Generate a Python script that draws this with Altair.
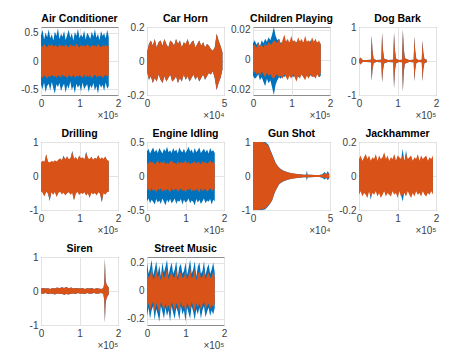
import altair as alt
import numpy as np
import pandas as pd

BLUE = "#0072BD"
ORANGE = "#D95319"

# ---------------- Air Conditioner (x in 1e5 samples) ----------------
AC_END = 1.76
AC_BHI = [0.45,0.55,0.38,0.50,0.42,0.56,0.40,0.47,0.36,0.52,0.44,0.58,0.39,0.48,0.43,0.53,0.37,0.46,0.55,0.41,0.49,0.36,0.51,0.44,0.57,0.40,0.47,0.42,0.54,0.38,0.50,0.45,0.39,0.52,0.43,0.56,0.41,0.48,0.37,0.53,0.44,0.49,0.40,0.55,0.42]
AC_BLO = [-0.42,-0.50,-0.38,-0.55,-0.44,-0.40,-0.52,-0.37,-0.48,-0.58,-0.41,-0.46,-0.39,-0.53,-0.45,-0.40,-0.56,-0.43,-0.49,-0.36,-0.51,-0.44,-0.57,-0.40,-0.47,-0.42,-0.54,-0.38,-0.50,-0.45,-0.41,-0.55,-0.43,-0.48,-0.39,-0.52,-0.44,-0.58,-0.40,-0.47,-0.42,-0.53,-0.38,-0.49,-0.44]
AC_OHI = [0.28,0.25,0.30,0.27,0.24,0.29,0.26,0.31,0.25,0.28,0.27,0.24,0.30,0.26,0.28,0.25,0.29,0.27,0.24,0.30,0.26,0.28,0.25,0.31,0.27,0.24,0.29,0.26,0.28,0.25,0.30,0.27,0.24,0.29,0.26,0.28,0.25,0.30,0.27,0.24,0.28,0.26,0.29,0.25,0.27]
AC_OLO = [-0.27,-0.30,-0.25,-0.28,-0.31,-0.26,-0.29,-0.24,-0.28,-0.26,-0.30,-0.25,-0.27,-0.29,-0.24,-0.28,-0.26,-0.31,-0.25,-0.27,-0.29,-0.24,-0.30,-0.26,-0.28,-0.25,-0.27,-0.30,-0.24,-0.29,-0.26,-0.28,-0.25,-0.31,-0.27,-0.24,-0.29,-0.26,-0.28,-0.25,-0.30,-0.27,-0.24,-0.28,-0.26]

# ---------------- Car Horn (x in 1e4 samples) ----------------
CH_END = 4.9
CH_OHI = [0.05,0.10,0.12,0.09,0.13,0.08,0.11,0.12,0.09,0.13,0.10,0.08,0.12,0.11,0.09,0.13,0.10,0.12,0.08,0.11,0.10,0.13,0.09,0.11,0.12,0.08,0.10,0.12,0.09,0.11,0.08,0.10,0.09,0.07,0.06,0.08,0.16,0.12,0.09,0.05]
CH_OLO = [-0.06,-0.11,-0.09,-0.13,-0.10,-0.12,-0.08,-0.11,-0.13,-0.09,-0.12,-0.10,-0.08,-0.12,-0.11,-0.09,-0.13,-0.10,-0.12,-0.08,-0.11,-0.09,-0.12,-0.10,-0.08,-0.11,-0.09,-0.12,-0.10,-0.08,-0.11,-0.09,-0.07,-0.08,-0.06,-0.10,-0.17,-0.13,-0.10,-0.05]

# ---------------- Children Playing ----------------
CP_END = 1.76
CP_BHI = [0.011,0.013,0.010,0.012,0.009,0.013,0.011,0.014,0.012,0.015,0.013,0.017,0.022,0.016,0.013,0.014,0.011,0.012,0.010,0.013,0.011,0.012,0.010,0.013,0.011,0.012,0.010,0.013,0.011,0.012,0.010,0.012,0.011,0.013,0.010,0.012,0.011,0.012,0.010,0.011]
CP_BLO = [-0.011,-0.013,-0.012,-0.010,-0.014,-0.012,-0.015,-0.018,-0.013,-0.016,-0.014,-0.019,-0.024,-0.017,-0.014,-0.012,-0.013,-0.011,-0.012,-0.010,-0.012,-0.011,-0.010,-0.012,-0.011,-0.010,-0.012,-0.011,-0.010,-0.012,-0.011,-0.010,-0.012,-0.011,-0.010,-0.012,-0.011,-0.010,-0.012,-0.011]
CP_OHI = [0.009,0.010,0.008,0.011,0.009,0.010,0.008,0.011,0.009,0.012,0.010,0.011,0.013,0.012,0.011,0.014,0.010,0.013,0.017,0.012,0.014,0.011,0.016,0.012,0.013,0.011,0.015,0.012,0.014,0.011,0.016,0.012,0.013,0.011,0.015,0.012,0.014,0.011,0.013,0.010]
CP_OLO = [-0.009,-0.008,-0.010,-0.009,-0.011,-0.008,-0.010,-0.012,-0.009,-0.011,-0.010,-0.012,-0.013,-0.011,-0.010,-0.012,-0.011,-0.013,-0.010,-0.012,-0.014,-0.011,-0.013,-0.010,-0.012,-0.015,-0.011,-0.013,-0.010,-0.012,-0.014,-0.011,-0.013,-0.010,-0.012,-0.011,-0.013,-0.010,-0.012,-0.009]

# ---------------- Dog Bark ----------------
DB_X  = [0.0,0.03,0.045,0.07,0.10,0.20,0.31,0.33,0.35,0.38,0.45,0.58,0.60,0.62,0.65,0.75,0.89,0.91,0.93,0.96,1.03,1.12,1.14,1.16,1.19,1.30,1.42,1.44,1.46,1.49,1.55,1.63,1.65,1.67,1.70,1.76]
DB_HI = [0.05,0.08,0.10,0.05,0.03,0.03,0.04,0.75,0.30,0.06,0.03,0.04,0.83,0.35,0.07,0.03,0.04,0.83,0.35,0.07,0.03,0.04,0.93,0.40,0.08,0.03,0.04,0.73,0.30,0.06,0.03,0.04,0.60,0.25,0.06,0.04]
DB_LO = [-0.05,-0.08,-0.10,-0.05,-0.03,-0.03,-0.04,-0.58,-0.25,-0.06,-0.03,-0.04,-0.63,-0.30,-0.07,-0.03,-0.04,-0.80,-0.30,-0.07,-0.03,-0.04,-0.90,-0.35,-0.08,-0.03,-0.04,-0.60,-0.25,-0.06,-0.03,-0.04,-0.60,-0.25,-0.06,-0.04]

# ---------------- Drilling ----------------
DR_END = 1.76
DR_BHI = [0.38,0.43,0.40,0.62,0.41,0.38,0.42,0.40,0.44,0.41,0.46,0.50,0.45,0.60,0.48,0.56,0.47,0.51,0.74,0.49,0.54,0.46,0.58,0.50,0.53,0.47,0.72,0.51,0.48,0.55,0.46,0.52,0.49,0.60,0.47,0.53,0.48,0.56,0.45,0.43]
DR_BLO = [-0.43,-0.48,-0.58,-0.44,-0.50,-0.74,-0.46,-0.53,-0.45,-0.60,-0.48,-0.44,-0.52,-0.47,-0.55,-0.49,-0.46,-0.53,-0.48,-0.70,-0.50,-0.45,-0.54,-0.48,-0.51,-0.46,-0.56,-0.49,-0.63,-0.47,-0.52,-0.48,-0.55,-0.46,-0.51,-0.78,-0.48,-0.53,-0.46,-0.44]
DR_OHI = [0.40,0.45,0.42,0.65,0.43,0.40,0.44,0.42,0.46,0.43,0.48,0.52,0.47,0.55,0.50,0.58,0.49,0.53,0.70,0.51,0.56,0.48,0.60,0.52,0.55,0.49,0.68,0.53,0.50,0.57,0.48,0.54,0.51,0.62,0.49,0.55,0.50,0.58,0.47,0.45]
DR_OLO = [-0.45,-0.50,-0.60,-0.46,-0.52,-0.70,-0.48,-0.55,-0.47,-0.62,-0.50,-0.46,-0.54,-0.49,-0.57,-0.51,-0.48,-0.55,-0.50,-0.72,-0.52,-0.47,-0.56,-0.50,-0.53,-0.48,-0.58,-0.51,-0.65,-0.49,-0.54,-0.50,-0.57,-0.48,-0.53,-0.75,-0.50,-0.55,-0.48,-0.46]

# ---------------- Engine Idling ----------------
EI_END = 1.76
EI_BHI = [0.36,0.40,0.33,0.38,0.42,0.35,0.39,0.34,0.41,0.37,0.33,0.40,0.36,0.43,0.35,0.38,0.34,0.41,0.36,0.39,0.33,0.42,0.37,0.35,0.40,0.34,0.38,0.43,0.36,0.39,0.33,0.41,0.35,0.38,0.42,0.34,0.37,0.40,0.35,0.39,0.33,0.41,0.36,0.38,0.34]
EI_BLO = [-0.37,-0.33,-0.40,-0.35,-0.38,-0.42,-0.34,-0.39,-0.36,-0.41,-0.33,-0.38,-0.43,-0.35,-0.39,-0.34,-0.40,-0.37,-0.33,-0.41,-0.36,-0.38,-0.34,-0.42,-0.35,-0.39,-0.37,-0.33,-0.40,-0.36,-0.38,-0.43,-0.34,-0.39,-0.35,-0.41,-0.37,-0.33,-0.40,-0.36,-0.38,-0.34,-0.42,-0.35,-0.37]
EI_OHI = [0.20,0.18,0.22,0.19,0.21,0.17,0.20,0.23,0.18,0.21,0.19,0.22,0.17,0.20,0.18,0.21,0.23,0.19,0.20,0.17,0.22,0.18,0.21,0.19,0.20,0.23,0.18,0.21,0.17,0.20,0.19,0.22,0.18,0.21,0.20,0.17,0.22,0.19,0.21,0.18,0.20,0.23,0.19,0.21,0.18]
EI_OLO = [-0.21,-0.19,-0.23,-0.18,-0.22,-0.20,-0.24,-0.19,-0.21,-0.18,-0.23,-0.20,-0.22,-0.19,-0.21,-0.24,-0.18,-0.22,-0.20,-0.19,-0.23,-0.21,-0.18,-0.22,-0.20,-0.24,-0.19,-0.21,-0.18,-0.23,-0.20,-0.22,-0.19,-0.21,-0.24,-0.18,-0.22,-0.20,-0.19,-0.23,-0.21,-0.18,-0.22,-0.20,-0.19]

# ---------------- Gun Shot (x in 1e4 samples) ----------------
GS_X   = [0.0,0.3,0.6,0.8,1.0,1.12,1.24,1.35,1.46,1.58,1.69,1.85,2.03,2.3,2.6,3.0,3.3,3.45,3.5,3.55,3.7,4.0,4.3,4.5,4.65,4.75,4.85,4.95]
GS_BHI = [1.0,1.0,1.0,1.0,0.92,0.78,0.65,0.52,0.40,0.31,0.25,0.19,0.15,0.10,0.07,0.05,0.04,0.04,0.16,0.04,0.035,0.03,0.03,0.05,0.12,0.06,0.14,0.07]
GS_BLO = [-1.0,-1.0,-1.0,-0.98,-0.88,-0.81,-0.72,-0.57,-0.44,-0.34,-0.25,-0.19,-0.15,-0.10,-0.07,-0.05,-0.04,-0.04,-0.14,-0.04,-0.035,-0.03,-0.03,-0.05,-0.10,-0.06,-0.12,-0.07]
GS_OHI = [1.0,1.0,1.0,0.97,0.88,0.75,0.62,0.50,0.38,0.30,0.24,0.18,0.14,0.10,0.07,0.05,0.04,0.04,0.05,0.04,0.035,0.03,0.03,0.04,0.07,0.05,0.09,0.06]
GS_OLO = [-1.0,-1.0,-0.98,-0.95,-0.86,-0.80,-0.71,-0.56,-0.43,-0.33,-0.24,-0.18,-0.14,-0.10,-0.07,-0.05,-0.04,-0.04,-0.05,-0.04,-0.035,-0.03,-0.03,-0.04,-0.06,-0.05,-0.08,-0.06]

# ---------------- Jackhammer ----------------
JH_END = 1.92
JH_BHI = [0.09,0.11,0.08,0.10,0.12,0.09,0.11,0.08,0.10,0.09,0.12,0.08,0.11,0.09,0.10,0.13,0.09,0.11,0.08,0.10,0.09,0.12,0.08,0.11,0.10,0.09,0.16,0.08,0.15,0.09,0.10,0.11,0.08,0.10,0.09,0.12,0.08,0.11,0.09,0.10,0.11,0.08,0.10,0.09,0.11]
JH_BLO = [-0.10,-0.08,-0.11,-0.09,-0.10,-0.12,-0.08,-0.14,-0.09,-0.10,-0.08,-0.11,-0.09,-0.12,-0.10,-0.08,-0.11,-0.09,-0.10,-0.11,-0.08,-0.10,-0.09,-0.12,-0.08,-0.11,-0.15,-0.09,-0.11,-0.08,-0.10,-0.12,-0.09,-0.11,-0.08,-0.10,-0.09,-0.11,-0.08,-0.10,-0.11,-0.09,-0.10,-0.08,-0.10]
JH_OHI = [0.10,0.12,0.09,0.11,0.13,0.10,0.12,0.09,0.11,0.10,0.13,0.09,0.12,0.10,0.11,0.14,0.10,0.12,0.09,0.11,0.10,0.13,0.09,0.12,0.11,0.10,0.12,0.09,0.13,0.10,0.11,0.12,0.09,0.11,0.10,0.13,0.09,0.12,0.10,0.11,0.12,0.09,0.11,0.10,0.12]
JH_OLO = [-0.11,-0.09,-0.12,-0.10,-0.11,-0.13,-0.09,-0.12,-0.10,-0.11,-0.09,-0.12,-0.10,-0.13,-0.11,-0.09,-0.12,-0.10,-0.11,-0.12,-0.09,-0.11,-0.10,-0.13,-0.09,-0.12,-0.11,-0.10,-0.12,-0.09,-0.11,-0.13,-0.10,-0.12,-0.09,-0.11,-0.10,-0.12,-0.09,-0.11,-0.12,-0.10,-0.11,-0.09,-0.11]

# ---------------- Siren ----------------
SI_X  = [0.00,0.06,0.12,0.18,0.24,0.30,0.36,0.42,0.48,0.54,0.60,0.66,0.72,0.78,0.84,0.90,0.96,1.02,1.08,1.14,1.20,1.26,1.32,1.38,1.44,1.50,1.56,1.62,1.645,1.66,1.675,1.70,1.73,1.76]
SI_HI = [0.07,0.09,0.07,0.08,0.06,0.09,0.07,0.10,0.08,0.11,0.09,0.12,0.08,0.10,0.07,0.09,0.08,0.07,0.09,0.06,0.08,0.07,0.09,0.06,0.08,0.07,0.06,0.08,0.25,0.95,0.35,0.20,0.15,0.10]
SI_LO = [-0.07,-0.08,-0.06,-0.09,-0.07,-0.08,-0.10,-0.07,-0.09,-0.08,-0.11,-0.09,-0.10,-0.08,-0.07,-0.09,-0.06,-0.08,-0.07,-0.09,-0.06,-0.08,-0.07,-0.06,-0.08,-0.07,-0.06,-0.08,-0.30,-0.93,-0.40,-0.22,-0.15,-0.10]

# ---------------- Street Music ----------------
SM_END = 1.76
SM_BHI = [0.20,0.12,0.16,0.22,0.11,0.15,0.21,0.12,0.18,0.10,0.20,0.13,0.17,0.22,0.11,0.16,0.20,0.12,0.15,0.21,0.10,0.17,0.19,0.12,0.14,0.20,0.11,0.16,0.22,0.12,0.15,0.21,0.10,0.17,0.20,0.12,0.14,0.21,0.11,0.16,0.19,0.12,0.15,0.20,0.13]
SM_BLO = [-0.18,-0.12,-0.20,-0.14,-0.11,-0.21,-0.13,-0.17,-0.22,-0.11,-0.15,-0.20,-0.12,-0.18,-0.14,-0.22,-0.11,-0.16,-0.20,-0.12,-0.15,-0.21,-0.11,-0.17,-0.14,-0.22,-0.12,-0.16,-0.20,-0.11,-0.15,-0.21,-0.13,-0.17,-0.12,-0.20,-0.14,-0.11,-0.19,-0.15,-0.12,-0.18,-0.14,-0.17,-0.12]
SM_OHI = [0.14,0.09,0.11,0.16,0.08,0.10,0.15,0.09,0.12,0.07,0.14,0.09,0.11,0.16,0.08,0.11,0.14,0.09,0.10,0.15,0.07,0.12,0.13,0.09,0.10,0.14,0.08,0.11,0.16,0.09,0.10,0.15,0.07,0.12,0.14,0.09,0.10,0.15,0.08,0.11,0.13,0.09,0.10,0.14,0.09]
SM_OLO = [-0.13,-0.09,-0.14,-0.10,-0.08,-0.15,-0.09,-0.12,-0.16,-0.08,-0.11,-0.14,-0.09,-0.13,-0.10,-0.16,-0.08,-0.11,-0.14,-0.09,-0.11,-0.15,-0.08,-0.12,-0.10,-0.16,-0.09,-0.11,-0.14,-0.08,-0.11,-0.15,-0.09,-0.12,-0.09,-0.14,-0.10,-0.08,-0.13,-0.11,-0.09,-0.13,-0.10,-0.12,-0.09]


def frame(x, hi, lo):
    n = min(len(x), len(hi), len(lo))
    return pd.DataFrame({"x": list(x)[:n], "hi": hi[:n], "lo": lo[:n]})


def even(end, hi, lo):
    n = min(len(hi), len(lo))
    return frame(np.linspace(0, end, n), hi, lo)


LABEL_EXPR = "replace(format(datum.value, '~g'), '\u2212', '-')"
FONT = "Liberation Sans"

PW, PH = 77, 68


def panel(title, xdom, xticks, exp, ydom, yticks, blue, orange):
    xenc = alt.X("x:Q",
                 scale=alt.Scale(domain=xdom, nice=False, zero=False),
                 axis=alt.Axis(values=xticks, title=exp, titleAnchor="end",
                               labelExpr=LABEL_EXPR))
    yenc = alt.Y("hi:Q",
                 scale=alt.Scale(domain=ydom, nice=False, zero=False),
                 axis=alt.Axis(values=yticks, title=None, labelExpr=LABEL_EXPR))
    b = alt.Chart(blue).mark_area(color=BLUE, clip=True, opacity=1).encode(
        x=xenc, y=yenc, y2="lo:Q")
    o = alt.Chart(orange).mark_area(color=ORANGE, clip=True, opacity=1).encode(
        x=xenc, y=yenc, y2="lo:Q")
    t = alt.Chart(pd.DataFrame({"t": [title]})).mark_text(
        font=FONT, fontSize=10.5, fontWeight="bold", color="black",
        align="center", baseline="alphabetic",
    ).encode(text="t:N", x=alt.value(PW / 2), y=alt.value(-5))
    return alt.layer(b, o, t).properties(width=PW, height=PH)


E5 = "×10⁵"
E4 = "×10⁴"

p_ac = panel("Air Conditioner", [0, 2], [0, 1, 2], E5, [-0.6, 0.6], [-0.5, 0, 0.5],
             even(AC_END, AC_BHI, AC_BLO), even(AC_END, AC_OHI, AC_OLO))
p_ch = panel("Car Horn", [0, 5], [0, 5], E4, [-0.2, 0.2], [-0.2, 0, 0.2],
             even(CH_END, CH_OHI, CH_OLO), even(CH_END, CH_OHI, CH_OLO))
p_cp = panel("Children Playing", [0, 2], [0, 1, 2], E5, [-0.024, 0.022], [-0.02, 0, 0.02],
             even(CP_END, CP_BHI, CP_BLO), even(CP_END, CP_OHI, CP_OLO))
p_db = panel("Dog Bark", [0, 2], [0, 1, 2], E5, [-1, 1], [-1, 0, 1],
             frame(DB_X, DB_HI, DB_LO), frame(DB_X, DB_HI, DB_LO))
p_dr = panel("Drilling", [0, 2], [0, 1, 2], E5, [-1, 1], [-1, 0, 1],
             even(DR_END, DR_BHI, DR_BLO), even(DR_END, DR_OHI, DR_OLO))
p_ei = panel("Engine Idling", [0, 2], [0, 1, 2], E5, [-0.5, 0.5], [-0.5, 0, 0.5],
             even(EI_END, EI_BHI, EI_BLO), even(EI_END, EI_OHI, EI_OLO))
p_gs = panel("Gun Shot", [0, 5], [0, 5], E4, [-1, 1], [-1, 0, 1],
             frame(GS_X, GS_BHI, GS_BLO), frame(GS_X, GS_OHI, GS_OLO))
p_jh = panel("Jackhammer", [0, 2], [0, 1, 2], E5, [-0.2, 0.2], [-0.2, 0, 0.2],
             even(JH_END, JH_BHI, JH_BLO), even(JH_END, JH_OHI, JH_OLO))
p_si = panel("Siren", [0, 2], [0, 1, 2], E5, [-1, 1], [-1, 0, 1],
             frame(SI_X, SI_HI, SI_LO), frame(SI_X, SI_HI, SI_LO))
p_sm = panel("Street Music", [0, 2], [0, 1, 2], E5, [-0.245, 0.24], [-0.2, 0, 0.2],
             even(SM_END, SM_BHI, SM_BLO), even(SM_END, SM_OHI, SM_OLO))

chart = alt.concat(
    p_ac, p_ch, p_cp, p_db,
    p_dr, p_ei, p_gs, p_jh,
    p_si, p_sm,
    columns=4,
    spacing=alt.RowColnumber(row=47, column=29),
    bounds="flush",
).properties(
    padding={"left": 12, "top": 5, "right": 5, "bottom": 5},
    background="white",
).configure_view(
    stroke="#8c8c8c", strokeWidth=1
).configure_axis(
    grid=True, gridColor="#e3e3e3", gridWidth=1,
    ticks=False, domain=False,
    labelFont=FONT, labelFontSize=10, labelColor="#404040",
    labelPadding=3, labelFlush=False, labelOverlap=False,
    titleFont=FONT, titleFontSize=10, titleFontWeight="normal",
    titleColor="#404040", titlePadding=2,
)

chart.save("out.html", embed_options={"renderer": "svg", "actions": False})
